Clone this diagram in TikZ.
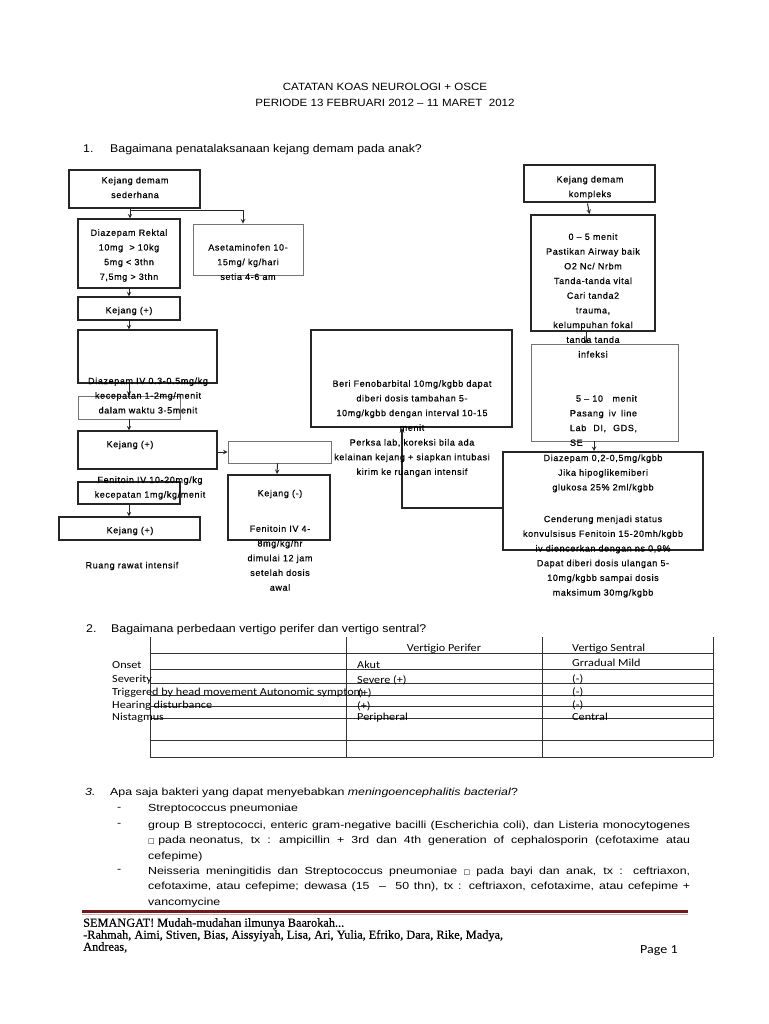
\documentclass[tikz,border=0pt]{standalone}
\usepackage{fontspec}
\setmainfont{Liberation Sans}
\newfontfamily\flowfont[LetterSpace=7, FakeBold=0.6]{Liberation Sans}
\newfontfamily\docfont[FakeStretch=1.1]{Liberation Sans}
\newfontfamily\narrowfont[FakeStretch=1.2]{Liberation Sans}
\newfontfamily\tablefont[FakeStretch=1.14]{Carlito}
\newfontfamily\footfont[FakeBold=0.4]{Liberation Serif}
\newfontfamily\symfont{DejaVu Sans}
\usepackage{tikz}
\usetikzlibrary{arrows, positioning}
\definecolor{barred}{RGB}{112,28,30}
\tikzstyle{box} = [rectangle, draw=black!85, line width=1.2pt, inner sep=0pt]
\tikzstyle{boldbox} = [box, line width=2pt]
\tikzstyle{lightbox} = [box, draw=black!55, line width=0.9pt]
\tikzstyle{arrow} = [line width=1pt, ->, >=stealth, draw=black!85]
\tikzstyle{flow} = [font=\flowfont\fontsize{9}{14.7}\selectfont, align=center, inner sep=0pt]
\tikzstyle{head} = [font=\docfont\fontsize{10.5}{16}\selectfont, align=center, inner sep=0pt]
\tikzstyle{quest} = [font=\docfont\fontsize{11.2}{15}\selectfont, anchor=west, inner sep=0pt]
\tikzstyle{cell} = [font=\tablefont\fontsize{10.7}{13}\selectfont, anchor=west, inner sep=0pt]
\tikzstyle{grid} = [draw=black!80, line width=0.8pt]
\tikzstyle{item} = [font=\narrowfont\fontsize{10.3}{15.3}\selectfont, align=left, inner sep=0pt]
\newcommand{\sqbox}{{\symfont\fontsize{7}{7}\selectfont □}}
\newcommand{\fullline}[1]{\makebox[542pt][s]{#1}}

\begin{document}
\begin{tikzpicture}[x=1pt, y=-1pt]
    \useasboundingbox (0,0) rectangle (768,1024);

    % heading
    \node (title) [head] at (385,95) {CATATAN KOAS NEUROLOGI + OSCE\\PERIODE 13 FEBRUARI 2012 – 11 MARET \ 2012};
    \node (qone) [quest] at (83,150) {\makebox[27pt][l]{1.}Bagaimana penatalaksanaan kejang demam pada anak?};

    % left column boxes
    \node (sederhana) [boldbox, minimum width=131, minimum height=38] at (134.5,189) {};
    \node (rektal) [box, minimum width=102, minimum height=69] at (129,253.5) {};
    \node (aseta) [lightbox, minimum width=110, minimum height=51] at (248,249.5) {};
    \node (kejA) [box, minimum width=102, minimum height=23] at (129,308.5) {};
    \node (divbox) [box, minimum width=139, minimum height=53] at (147.5,356.5) {};
    \node (divsub) [lightbox, minimum width=102, minimum height=23] at (129,407.5) {};
    \node (kejB) [box, minimum width=139, minimum height=38] at (147.5,450) {};
    \node (empty) [lightbox, minimum width=103, minimum height=22] at (279.5,452) {};
    \node (kejneg) [boldbox, minimum width=102, minimum height=65] at (279,507.5) {};
    \node (fensub) [box, minimum width=102, minimum height=22] at (129,493) {};
    \node (kejC) [box, minimum width=141, minimum height=23] at (129.5,528.5) {};

    % middle and right column boxes
    \node (feno) [boldbox, line width=1.6pt, minimum width=201, minimum height=97] at (411.5,378.5) {};
    \node (kompleks) [boldbox, minimum width=131, minimum height=37] at (589.5,184) {};
    \node (awal) [boldbox, minimum width=124, minimum height=116] at (593,273) {};
    \node (lanjut) [lightbox, minimum width=147, minimum height=97] at (604.5,392.5) {};
    \node (diazr) [boldbox, minimum width=200, minimum height=98] at (603,501) {};

    % connectors
    \coordinate (split) at (130,211);
    \draw [line width=1pt, draw=black!85] (sederhana.south -| split) -- (split);
    \draw [arrow] (split) -- (rektal.north -| split);
    \draw [arrow] (split) -| ([xshift=-5pt]aseta.north);
    \draw [arrow] (rektal.south) -- (kejA.north);
    \draw [arrow] (kejA.south) -- (divbox.north -| kejA.south);
    \draw [arrow] (divbox.south -| divsub.north) -- (divsub.north);
    \draw [arrow] (divsub.south) -- (kejB.north -| divsub.south);
    \draw [arrow] (kejB.east |- empty.west) -- (empty.west);
    \draw [arrow] ([xshift=-2pt]empty.south) -- ([xshift=-2pt]kejneg.north);
    \draw [arrow] (fensub.south) -- (kejC.north -| fensub.south);
    \draw [arrow] ([xshift=-2pt]kompleks.south) -- (awal.north -| kompleks.south);
    \draw [arrow] ([xshift=-7pt]awal.south) -- ([xshift=-18.5pt]lanjut.north);
    \draw [arrow] ([xshift=-10.5pt]lanjut.south) -- (diazr.north -| 594,0);
    \draw [arrow, line width=1.2pt] ([yshift=-7pt]diazr.west) -| ([xshift=-9.5pt]feno.south);

    % flowchart texts
    \node (tsed) [flow] at (135,187.5) {Kejang demam\\sederhana};
    \node (trektal) [flow] at (129,255.5) {Diazepam Rektal\\10mg \ > 10kg\\5mg < 3thn\\7,5mg > 3thn};
    \node (taseta) [flow] at (248,262) {Asetaminofen 10-\\15mg/ kg/hari\\setia 4-6 am};
    \node (tkejA) [flow] at (129,311) {Kejang (+)};
    \node (tdiv) [flow] at (148,395.5) {Diazepam IV 0.3-0.5mg/kg\\kecepatan 1-2mg/menit\\dalam waktu 3-5menit};
    \node (tkejB) [flow] at (130,445) {Kejang (+)};
    \node (tfenA) [flow] at (150,488) {Fenitoin IV 10-20mg/kg\\kecepatan 1mg/kg/menit};
    \node (tkejneg) [flow] at (280,494) {Kejang (-)};
    \node (tfenB) [flow] at (280,558) {Fenitoin IV 4-\\8mg/kg/hr\\dimulai 12 jam\\setelah dosis\\awal};
    \node (tkejC) [flow] at (130,531) {Kejang (+)};
    \node (truang) [flow] at (132,566) {Ruang rawat intensif};
    \node (tfeno) [flow] at (412,428.5) {Beri Fenobarbital 10mg/kgbb dapat\\diberi dosis tambahan 5-\\10mg/kgbb dengan interval 10-15\\menit\\Perksa lab, koreksi bila ada\\kelainan kejang + siapkan intubasi\\kirim ke ruangan intensif};
    \node (tkompleks) [flow] at (590,187.5) {Kejang demam\\kompleks};
    \node (tawal) [flow] at (593,295.5) {0 – 5 menit\\Pastikan Airway baik\\O2 Nc/ Nrbm\\Tanda-tanda vital\\Cari tanda2\\trauma,\\kelumpuhan fokal\\tanda tanda\\infeksi};
    \node (tlanjut) [flow] at (603.5,420.5) {\makebox[67pt][r]{\makebox[61pt][s]{5 – 10 \ \ menit}}\\\makebox[67pt][s]{Pasang \ iv \ line}\\\makebox[67pt][s]{Lab \ DI, \ GDS,}\\\makebox[67pt][l]{SE}};
    \node (tdiazr) [flow] at (603,526) {Diazepam 0,2-0,5mg/kgbb\\Jika hipoglikemiberi\\glukosa 25\% 2ml/kgbb\\[17pt]Cenderung menjadi status\\konvulsisus Fenitoin 15-20mh/kgbb\\iv diencerkan dengan ns 0,9\%\\Dapat diberi dosis ulangan 5-\\10mg/kgbb sampai dosis\\maksimum 30mg/kgbb};

    % vertigo table
    \node (qtwo) [quest] at (86,630) {\makebox[25pt][l]{2.}Bagaimana perbedaan vertigo perifer dan vertigo sentral?};
    \draw [grid] (150,637) -- (150,757);
    \draw [grid] (346,637) -- (346,757);
    \draw [grid] (542,637) -- (542,757);
    \draw [grid] (713,637) -- (713,757);
    \draw [grid] (150,653) -- (713,653);
    \draw [grid] (150,669) -- (713,669);
    \draw [grid] (150,683) -- (713,683);
    \draw [grid] (150,695) -- (713,695);
    \draw [grid] (150,706) -- (713,706);
    \draw [grid] (150,718) -- (713,718);
    \draw [grid] (150,740) -- (713,740);
    \draw [grid] (150,757) -- (713,757);

    \node (hperifer) [cell, anchor=center] at (444,649) {Vertigio Perifer};
    \node (hsentral) [cell] at (572,649) {Vertigo Sentral};
    \node (onset) [cell] at (112,665) {Onset};
    \node (severity) [cell] at (112,680) {Severity};
    \node (trigger) [cell] at (112,693) {Triggered by head movement Autonomic symptom};
    \node (hearing) [cell] at (112,706) {Hearing disturbance};
    \node (nistag) [cell] at (112,718) {Nistagmus};
    \node (akut) [cell] at (357,665) {Akut};
    \node (severe) [cell] at (357,680) {Severe (+)};
    \node (trigP) [cell] at (358,693) {(+)};
    \node (hearP) [cell] at (357,706) {(+)};
    \node (perif) [cell] at (357,718) {Peripheral};
    \node (gradual) [cell] at (572,663) {Grradual Mild};
    \node (sevS) [cell] at (572,679) {(-)};
    \node (trigS) [cell] at (572,692) {(-)};
    \node (hearS) [cell] at (572,705) {(-)};
    \node (sentral) [cell] at (572,717) {Central};

    % bacteria list
    \node (qthree) [quest, font=\narrowfont\fontsize{10.3}{15}\selectfont] at (85,793) {\makebox[25pt][l]{\itshape 3.}Apa saja bakteri yang dapat menyebabkan \textit{meningoencephalitis bacterial}?};
    \node (dashA) [item, anchor=west] at (117,809) {-};
    \node (strep) [item, anchor=west] at (148,809) {Streptococcus pneumoniae};
    \node (dashB) [item, anchor=west] at (117,825) {-};
    \node (groupb) [item, anchor=north west] at (148,820.8) {\fullline{group B streptococci, enteric gram-negative bacilli (Escherichia coli), dan Listeria monocytogenes}\\\fullline{\sqbox \ pada neonatus, \ tx \ : \ ampicillin \ + \ 3rd \ dan \ 4th \ generation \ of \ cephalosporin \ (cefotaxime \ atau}\\cefepime)};
    \node (dashC) [item, anchor=west] at (117,871) {-};
    \node (neis) [item, anchor=north west] at (148,866.8) {\fullline{Neisseria meningitidis dan Streptococcus pneumoniae \sqbox \ pada bayi dan anak, tx : ceftriaxon,}\\\fullline{cefotaxime, atau cefepime; dewasa (15 \ – \ 50 thn), tx : ceftriaxon, cefotaxime, atau cefepime +}\\vancomycine};

    % footer
    \draw [line width=1pt, draw=barred!35] (82,914.5) -- (688,914.5);
    \draw [line width=3pt, draw=barred] (82,911.5) -- (688,911.5);
    \node (semangat) [font=\footfont\fontsize{12.3}{12}\selectfont, align=left, inner sep=0pt, anchor=north west] at (83,918) {SEMANGAT! Mudah-mudahan ilmunya Baarokah...\\-Rahmah, Aimi, Stiven, Bias, Aissyiyah, Lisa, Ari, Yulia, Efriko, Dara, Rike, Madya,\\Andreas,};
    \node (page) [cell, font=\tablefont\fontsize{12.3}{14}\selectfont] at (640,951) {Page 1};
\end{tikzpicture}
\end{document}
